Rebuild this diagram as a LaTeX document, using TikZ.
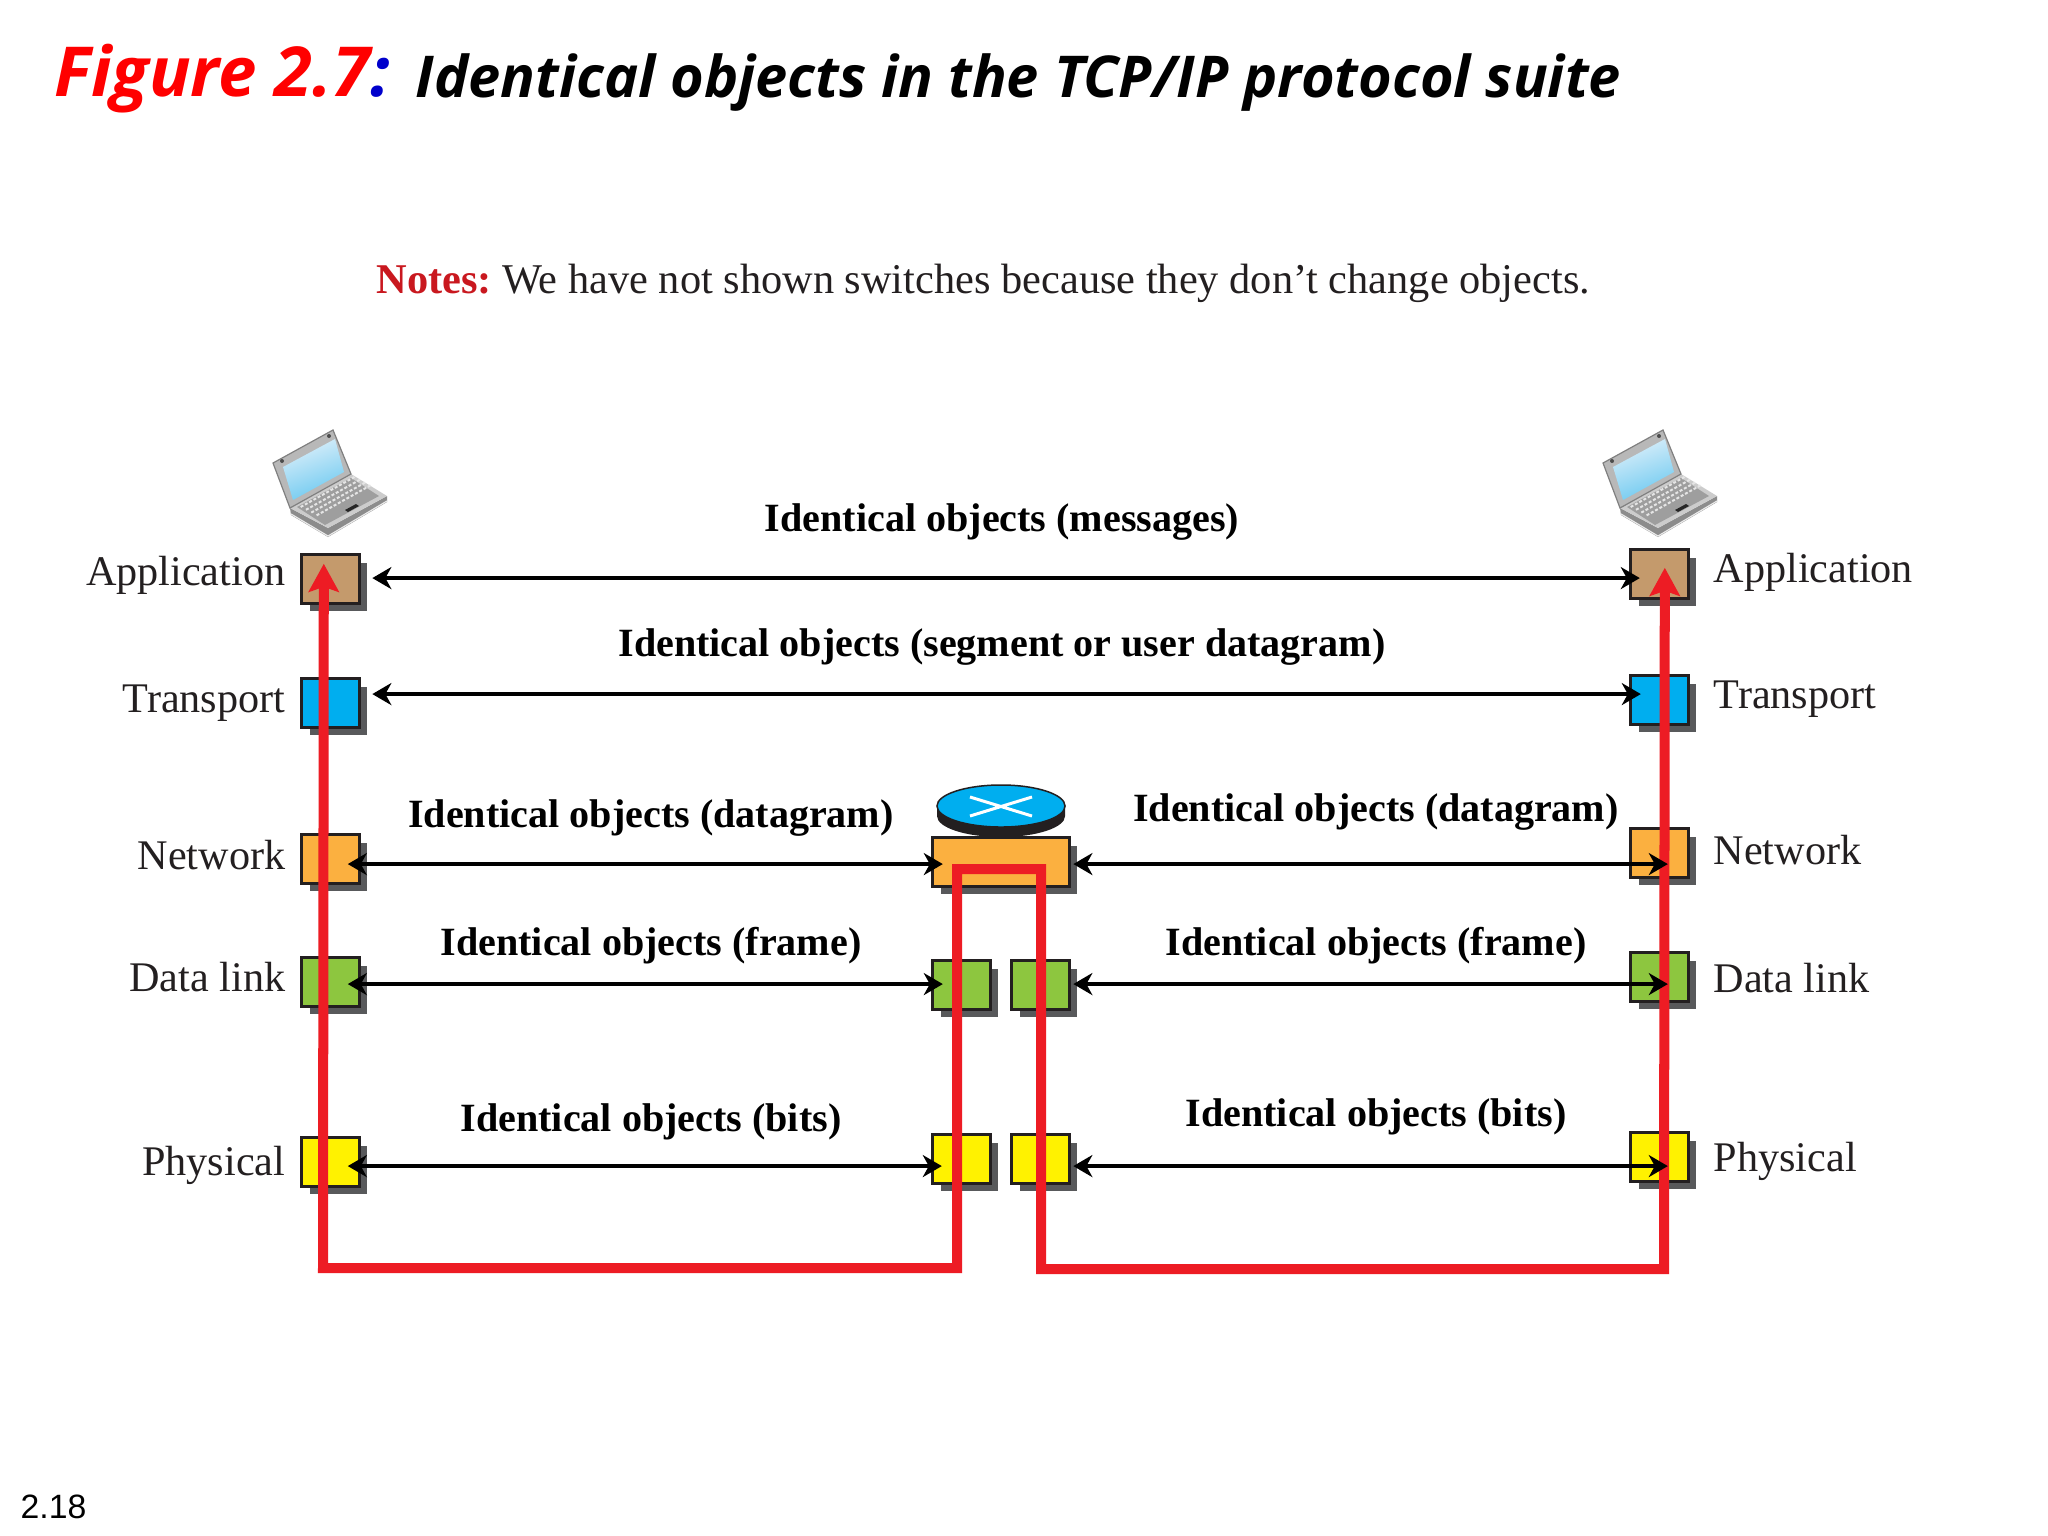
\documentclass[tikz,border=0pt]{standalone}
\usepackage{fontspec}
\setmainfont{Liberation Serif}
\newfontfamily\titlefont{Open Sans}
\newfontfamily\footfont{Liberation Sans}
\usepackage{tikz}
\usetikzlibrary{calc,arrows.meta,shadows,shapes.geometric}
\definecolor{appcolor}{HTML}{C49A6C}
\definecolor{transcolor}{HTML}{00AEEF}
\definecolor{netcolor}{HTML}{FBB040}
\definecolor{linkcolor}{HTML}{8DC63F}
\definecolor{physcolor}{HTML}{FFF200}
\definecolor{routeline}{HTML}{ED1C24}
\definecolor{shadowgray}{HTML}{58595B}
\definecolor{inkcolor}{HTML}{231F20}
\definecolor{screenlight}{HTML}{DCEFFA}
\definecolor{screendeep}{HTML}{6CC9F0}
\tikzset{
    layerbox/.style={rectangle, draw=inkcolor, line width=0.03cm, anchor=north west, xshift=0.008cm, yshift=-0.008cm, inner sep=0pt, outer sep=0pt, minimum width=0.575cm, minimum height=0.485cm, drop shadow={shadow xshift=0.08cm, shadow yshift=-0.08cm, fill=shadowgray, opacity=1}},
    sidelabel/.style={inner sep=0pt, text=inkcolor, font=\fontsize{12pt}{14pt}\selectfont},
    objlabel/.style={inner sep=0pt, anchor=base, text=black, font=\fontsize{11.4pt}{14pt}\selectfont\bfseries},
    peerarrow/.style={{Stealth[length=0.19cm,width=0.22cm,inset=0.06cm]}-{Stealth[length=0.19cm,width=0.22cm,inset=0.06cm]}, line width=0.035cm, black},
    routepath/.style={routeline, line width=0.1cm, miter limit=10},
    redhead/.style={{Stealth[length=0.28cm,width=0.3cm,inset=0.05cm]}-{Stealth[length=0.28cm,width=0.3cm,inset=0.05cm]}},
    laptop/.pic={
        % base
        \fill[black!45] (17,79) -- (18,86) -- (55,108) -- (114,73) -- (114,67) -- (55,99) -- cycle;
        \fill[black!20] (17,79) -- (78,45) -- (114,67) -- (55,99) -- cycle;
        \draw[black!8, line width=0.012cm] (18,85) -- (55,107) -- (114,72);
        \fill[black!38] (24,78) -- (78,49) -- (106,67) -- (52,96) -- cycle;
        \foreach \u in {0.1,0.17,...,0.95}
            \foreach \v in {0.12,0.26,...,0.65}
                \draw[black!10, line width=0.02cm] ({17+61*\u+38*\v},{79-34*\u+20*\v}) -- ++(2.6,-1.5);
        \fill[black!85] (72,81) -- (83,75) -- (86,77) -- (75,83) -- cycle;
        % lid
        \fill[black!28] (0,34) -- (60,1) -- (78,45) -- (17,79) -- cycle;
        \draw[black!50, line width=0.012cm] (0,34) -- (60,1) -- (78,45) -- (17,79) -- cycle;
        \shade[left color=screenlight, right color=screendeep, shading angle=20] (10,38) -- (62,10) -- (71,43) -- (20,71) -- cycle;
        \fill[black!70] (9,32) circle[radius=0.02cm] (56,7) circle[radius=0.02cm];
    }
}

\begin{document}
\begin{tikzpicture}[x=0.01cm, y=-0.01cm]

    \useasboundingbox (0,0) rectangle (2048,1536);
    \fill[white] (0,0) rectangle (2048,1536);

    \node (figtitle) [anchor=base west, inner sep=0pt, font=\titlefont\fontsize{19.6pt}{22pt}\selectfont\bfseries\itshape] at (54,96) {\textcolor{red}{Figure 2.7}\textcolor{blue!80!black}{:}};
    \node (figtext) [anchor=base west, inner sep=0pt, font=\titlefont\fontsize{16.4pt}{20pt}\selectfont\bfseries\itshape] at (415,97) {Identical objects in the TCP/IP protocol suite};
    \node (notes) [anchor=base west, inner sep=0pt, text=inkcolor, font=\fontsize{12.05pt}{14pt}\selectfont] at (376,293) {\textcolor{routeline!85!black}{\textbf{Notes:}} \hspace{-1.1pt}We have not shown switches because they don't change objects.};
    \node (pagenum) [anchor=base west, inner sep=0pt, font=\footfont\fontsize{9.6pt}{11pt}\selectfont] at (20,1518) {2.18};

    \pic (laptopL) at (273,429) {laptop};
    \pic (laptopR) at (1603,429) {laptop};

    % router
    \fill[inkcolor] (937,806) -- (937,816) arc[start angle=180, end angle=360, x radius=0.64cm, y radius=0.21cm] -- (1065,806) -- cycle;
    \node (routertop) [ellipse, fill=transcolor, draw=inkcolor, line width=0.015cm, inner sep=0pt, minimum width=1.28cm, minimum height=0.42cm] at (1001,806) {};
    \draw[white, line width=0.03cm] (970,797) -- (1032,816) (970,816) -- (1032,797);

    % left stack
    \node (appL) [layerbox, fill=appcolor] at (301,554) {};
    \node (transL) [layerbox, fill=transcolor] at (301,678) {};
    \node (netL) [layerbox, fill=netcolor] at (301,834) {};
    \node (linkL) [layerbox, fill=linkcolor] at (301,957) {};
    \node (physL) [layerbox, fill=physcolor] at (301,1137) {};

    % right stack
    \node (appR) [layerbox, fill=appcolor] at (1630,549) {};
    \node (transR) [layerbox, fill=transcolor] at (1630,675) {};
    \node (netR) [layerbox, fill=netcolor] at (1630,828) {};
    \node (linkR) [layerbox, fill=linkcolor] at (1630,952) {};
    \node (physR) [layerbox, fill=physcolor] at (1630,1132) {};

    % router stack
    \node (netM) [layerbox, fill=netcolor, minimum width=1.365cm] at (932,837) {};
    \node (linkMa) [layerbox, fill=linkcolor] at (932,960) {};
    \node (linkMb) [layerbox, fill=linkcolor] at (1011,960) {};
    \node (physMa) [layerbox, fill=physcolor] at (932,1134) {};
    \node (physMb) [layerbox, fill=physcolor] at (1011,1134) {};

    \node (appLtxt) [sidelabel, anchor=base east] at (286,585) {Application};
    \node (transLtxt) [sidelabel, anchor=base east] at (286,712) {Transport};
    \node (netLtxt) [sidelabel, anchor=base east] at (286,869) {Network};
    \node (linkLtxt) [sidelabel, anchor=base east] at (286,991) {Data link};
    \node (physLtxt) [sidelabel, anchor=base east] at (286,1175) {Physical};

    \node (appRtxt) [sidelabel, anchor=base west] at (1713,582) {Application};
    \node (transRtxt) [sidelabel, anchor=base west] at (1713,708) {Transport};
    \node (netRtxt) [sidelabel, anchor=base west] at (1713,864) {Network};
    \node (linkRtxt) [sidelabel, anchor=base west] at (1713,992) {Data link};
    \node (physRtxt) [sidelabel, anchor=base west] at (1713,1171) {Physical};

    \node (msgtxt) [objlabel] at (1002,531) {Identical objects (messages)};
    \node (segtxt) [objlabel] at (1002,656) {Identical objects (segment or user datagram)};
    \node (dgLtxt) [objlabel] at (651,827) {Identical objects (datagram)};
    \node (dgRtxt) [objlabel] at (1376,821) {Identical objects (datagram)};
    \node (frLtxt) [objlabel] at (651,955) {Identical objects (frame)};
    \node (frRtxt) [objlabel] at (1376,955) {Identical objects (frame)};
    \node (bitLtxt) [objlabel] at (651,1131) {Identical objects (bits)};
    \node (bitRtxt) [objlabel] at (1376,1126) {Identical objects (bits)};

    % path of the objects
    \coordinate (redL) at ($(appL.north west)+(22,9)$);
    \coordinate (redLb) at (323,1268);
    \coordinate (redMa) at (957,1268);
    \coordinate (redMb) at (957,869);
    \coordinate (redMc) at (1041,869);
    \coordinate (redMd) at (1041,1269);
    \coordinate (redRb) at (1664,1269);
    \coordinate (redR) at ($(appR.north west)+(34,18)$);
    \draw[routepath, redhead] (redL) -- (redLb) -- (redMa) -- (redMb) -- (redMc) -- (redMd) -- (redRb) -- (redR);

    % peer arrows
    \draw[peerarrow] ($(appL.east)+(13,-1)$) -- ($(appR.west |- appL.east)+(9,-1)$);
    \draw[peerarrow] ($(transL.east)+(13,-9)$) -- ($(transR.west |- transL.east)+(10,-9)$);
    \draw[peerarrow] ($(netL.west)+(46,5)$) -- ($(netM.west |- netL.west)+(10,5)$);
    \draw[peerarrow] ($(netM.east |- netL.west)+(4,5)$) -- ($(netR.west |- netL.west)+(37,5)$);
    \draw[peerarrow] ($(linkL.west)+(46,2)$) -- ($(linkMa.west |- linkL.west)+(10,2)$);
    \draw[peerarrow] ($(linkMb.east |- linkL.west)+(4,2)$) -- ($(linkR.west |- linkL.west)+(37,2)$);
    \draw[peerarrow] ($(physL.west)+(46,4)$) -- ($(physMa.west |- physL.west)+(9,4)$);
    \draw[peerarrow] ($(physMb.east |- physL.west)+(4,4)$) -- ($(physR.west |- physL.west)+(37,4)$);

\end{tikzpicture}
\end{document}
